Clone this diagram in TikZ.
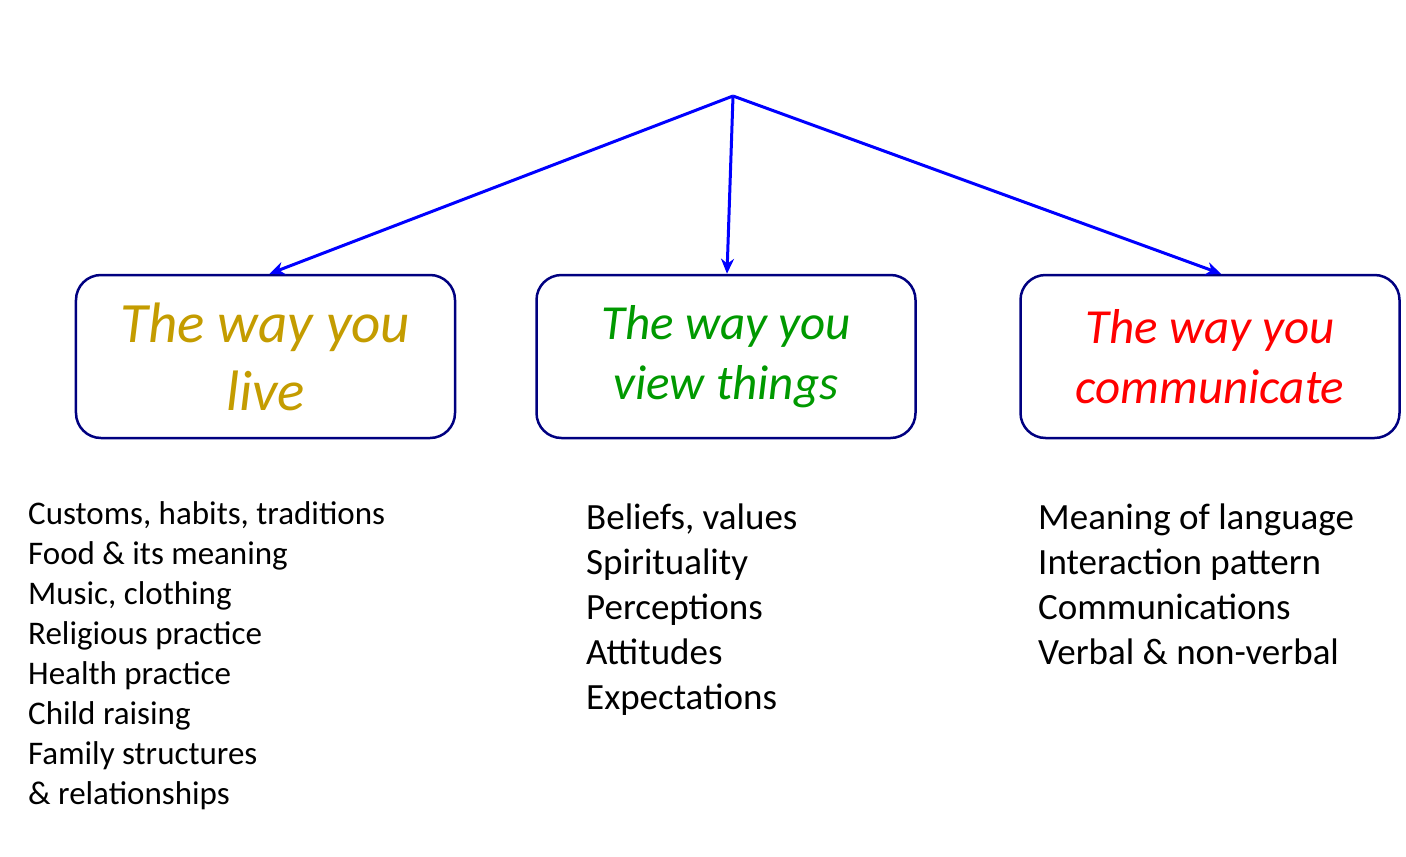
\documentclass[tikz,border=0pt]{standalone}
\usepackage{fontspec}
\setmainfont{Carlito}
\usepackage{tikz}
\usetikzlibrary{arrows.meta, positioning}
\usepackage{xcolor}
\definecolor{boxnavy}{RGB}{0, 0, 128}
\definecolor{arrowblue}{RGB}{0, 0, 255}
\definecolor{livegold}{RGB}{196, 156, 0}
\definecolor{viewgreen}{RGB}{0, 153, 0}
\definecolor{talkred}{RGB}{255, 0, 0}

\begin{document}
\begin{tikzpicture}[x=1bp, y=-1bp,
    waybox/.style={draw=boxnavy, line width=2.5bp, rounded corners=25bp,
        minimum width=379bp, minimum height=163bp, align=center, inner sep=0pt},
    itemlist/.style={anchor=base west, align=left, inner sep=0pt},
    fanarrow/.style={arrowblue, line width=3bp, -{Stealth[length=15bp, width=13bp]}}]
    \useasboundingbox (0,0) rectangle (1406,856);

    % the three boxes
    \node[waybox, text=livegold, font=\fontsize{57bp}{68bp}\selectfont\itshape]
        (live) at (265.5,356.5) {The way you\\live};
    \node[waybox, text=viewgreen, font=\fontsize{49bp}{60bp}\selectfont\itshape]
        (view) at (726,356.5) {The way you\\view things};
    \node[waybox, text=talkred, font=\fontsize{49bp}{60bp}\selectfont\itshape]
        (talk) at (1210,356.5) {The way you\\communicate};

    % arrows from the top
    \coordinate (hub) at (733,96);
    \draw[fanarrow] (hub) -- ([xshift=4bp]live.north);
    \draw[fanarrow] (hub) -- ([xshift=1bp]view.north);
    \draw[fanarrow] (hub) -- ([xshift=11bp]talk.north);

    % lists under the boxes (base = last line)
    \node[itemlist, font=\fontsize{33bp}{40bp}\selectfont] (livelist) at (28,804)
        {Customs, habits, traditions\\Food \& its meaning\\Music, clothing\\
         Religious practice\\Health practice\\Child raising\\
         Family structures\\\& relationships};
    \node[itemlist, font=\fontsize{37bp}{45bp}\selectfont] (viewlist) at (586,709)
        {Beliefs, values\\Spirituality\\Perceptions\\Attitudes\\Expectations};
    \node[itemlist, font=\fontsize{37bp}{45bp}\selectfont] (talklist) at (1038,664)
        {Meaning of language\\Interaction pattern\\Communications\\
         Verbal \& non-verbal};
\end{tikzpicture}
\end{document}
